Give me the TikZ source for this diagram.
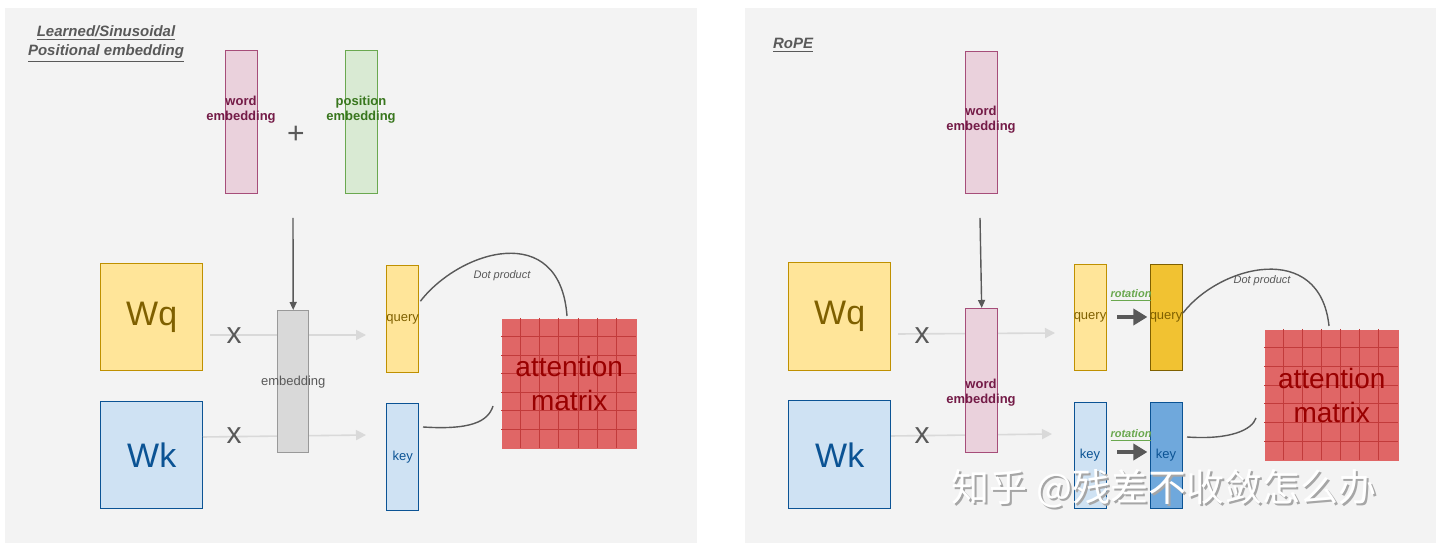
\documentclass[tikz,border=0pt]{standalone}
\usepackage{fontspec}
\setmainfont{Liberation Sans}
\newfontfamily\cjk{Noto Sans CJK SC}
\usetikzlibrary{arrows.meta}
\definecolor{panel}{HTML}{F3F3F3}
\definecolor{wfill}{HTML}{EAD1DC}\definecolor{wdraw}{HTML}{A64D79}\definecolor{wtext}{HTML}{741B47}
\definecolor{pfill}{HTML}{D9EAD3}\definecolor{pdraw}{HTML}{6AA84F}\definecolor{ptext}{HTML}{38761D}
\definecolor{qfill}{HTML}{FFE599}\definecolor{qdraw}{HTML}{BF9000}\definecolor{qtext}{HTML}{7F6000}
\definecolor{kfill}{HTML}{CFE2F3}\definecolor{kdraw}{HTML}{0B5394}
\definecolor{q2fill}{HTML}{F1C232}\definecolor{k2fill}{HTML}{6FA8DC}
\definecolor{afill}{HTML}{E06666}\definecolor{agrid}{HTML}{C23B3B}\definecolor{atext}{HTML}{990000}
\definecolor{efill}{HTML}{D9D9D9}\definecolor{edraw}{HTML}{999999}
\definecolor{tgray}{HTML}{595959}
\tikzset{
 box/.style={draw, line width=0.7pt, inner sep=0pt, anchor=north west},
 lbl/.style={font=\fontsize{6.5}{7.5}\selectfont\bfseries, align=center},
 small/.style={font=\fontsize{6.5}{7.5}\selectfont},
 big/.style={font=\fontsize{17}{18}\selectfont},
 times/.style={font=\fontsize{15}{15}\selectfont, text=tgray},
 lgarrow/.style={draw=efill, line width=0.8pt, -{Triangle[length=5pt,width=5pt]}},
 darrow/.style={draw=tgray, line width=0.7pt, -{Triangle[length=4pt,width=3.5pt]}},
 rotarrow/.style={draw=tgray, line width=1.8pt, -{Triangle[length=7pt,width=8pt]}},
 curve/.style={draw=tgray, line width=0.7pt},
 title/.style={font=\fontsize{7.5}{9.5}\selectfont\bfseries\itshape, text=tgray, align=center},
 dot/.style={font=\fontsize{5.5}{6}\selectfont\itshape, text=tgray},
 rot/.style={font=\fontsize{5.5}{6}\selectfont\bfseries\itshape, text=pdraw},
}
\newcommand{\rbox}[6]{\node[box, fill=#3, draw=#4, minimum width={(#5)*0.5pt}, minimum height={(#6)*0.5pt}] (#1) at #2 {};}
\newcommand{\attmat}[5]{% name, x0,y0,x1,y1
 \node[box, fill=afill, draw=none, minimum width={(#4-#2)*0.5pt}, minimum height={(#5-#3)*0.5pt}] (#1) at (#2,#3) {};
 \foreach \i in {1,...,6}{
  \draw[agrid, line width=0.4pt] ({#2+\i*(#4-#2)/7},#3) -- ({#2+\i*(#4-#2)/7},#5);
  \draw[agrid, line width=0.4pt] (#2,{#3+\i*(#5-#3)/7}) -- (#4,{#3+\i*(#5-#3)/7});}
 \node[big, text=atext, align=center, font=\fontsize{14}{17}\selectfont] at (#1.center) {attention\\matrix};}
\begin{document}
\begin{tikzpicture}[x=0.5pt,y=-0.5pt]
\useasboundingbox[fill=white] (0,0) rectangle (1440,549);
\fill[panel] (5,8) rectangle (697,543);
\fill[panel] (745,8) rectangle (1436,543);
% ---------- left panel
\node[title] (t1) at (106,44) {\underline{Learned/Sinusoidal}\\\underline{Positional embedding}};
\rbox{we}{(225,50)}{wfill}{wdraw}{32}{143}
\node[lbl, text=wtext] at (241,110) {word\\embedding};
\node[font=\fontsize{15}{15}\selectfont, text=tgray] (plus) at (296,135) {+};
\rbox{pe}{(345,50)}{pfill}{pdraw}{32}{143}
\node[lbl, text=ptext] at (361,110) {position\\embedding};
\rbox{wq}{(100,263)}{qfill}{qdraw}{102}{107}
\node[big, text=qtext] at (wq.center) {Wq};
\rbox{wk}{(100,401)}{kfill}{kdraw}{102}{107}
\node[big, text=kdraw] at (wk.center) {Wk};
\coordinate (a1s) at (210,335); \coordinate (a1e) at (366,335);
\coordinate (a2s) at (203,437); \coordinate (a2e) at (366,435);
\draw[lgarrow] (a1s) -- (a1e);
\draw[lgarrow] (a2s) -- (a2e);
\node[times] at (234,336) {x};
\node[times] at (234,436) {x};
\rbox{emb}{(277,310)}{efill}{edraw}{31}{142}
\node[small, text=tgray] at (emb.center) {embedding};
\coordinate (ar1) at (293,218);
\draw[darrow] (ar1) -- (emb.north);
\rbox{q}{(386,265)}{qfill}{qdraw}{32}{107}
\node[small, text=qtext] at (q.center) {query};
\rbox{k}{(386,403)}{kfill}{kdraw}{32}{107}
\node[small, text=kdraw] at (k.center) {key};
\attmat{am}{501}{318}{636}{448}
\coordinate (c1) at (567,316);
\draw[curve] (q.east) ++(1,-18) .. controls (460,250) and (560,220) .. (c1);
\node[dot] at (502,276) {Dot product};
\coordinate (c2) at (493,406);
\draw[curve] (423,427) .. controls (470,430) and (488,422) .. (c2);
% ---------- right panel
\node[title] (t2) at (793,45) {\underline{RoPE}};
\rbox{we2}{(965,51)}{wfill}{wdraw}{32}{142}
\node[lbl, text=wtext] at (981,120) {word\\embedding};
\rbox{wq2}{(788,262)}{qfill}{qdraw}{102}{108}
\node[big, text=qtext] at (wq2.center) {Wq};
\rbox{wk2}{(788,400)}{kfill}{kdraw}{102}{108}
\node[big, text=kdraw] at (wk2.center) {Wk};
\coordinate (b1s) at (898,334); \coordinate (b1e) at (1055,333);
\coordinate (b2s) at (891,436); \coordinate (b2e) at (1052,434);
\draw[lgarrow] (b1s) -- (b1e);
\draw[lgarrow] (b2s) -- (b2e);
\node[times] at (922,336) {x};
\node[times] at (922,436) {x};
\rbox{we3}{(965,308)}{wfill}{wdraw}{32}{144}
\node[lbl, text=wtext] at (981,393) {word\\embedding};
\coordinate (ar2) at (980,218);
\draw[darrow] (ar2) -- (we3.north);
\rbox{q2}{(1074,264)}{qfill}{qdraw}{32}{106}
\node[small, text=qtext] at (1090,317) {query};
\rbox{q3}{(1150,264)}{q2fill}{qtext}{32}{106}
\node[small, text=qtext] at (1166,317) {query};
\rbox{k2}{(1074,402)}{kfill}{kdraw}{32}{106}
\node[small, text=kdraw] at (1090,455) {key};
\rbox{k3}{(1150,402)}{k2fill}{kdraw}{32}{106}
\node[small, text=kdraw] at (1166,455) {key};
\draw[rotarrow] (q2.east |- 0,317) ++(10,0) -- ++(30,0);
\draw[rotarrow] (k2.east |- 0,452) ++(10,0) -- ++(30,0);
\node[rot] at (1131,296) {\underline{rotation}};
\node[rot] at (1131,436) {\underline{rotation}};
\attmat{am2}{1264}{329}{1398}{460}
\coordinate (c3) at (1329,326);
\draw[curve] (1183,313) .. controls (1220,265) and (1320,240) .. (c3);
\node[dot] at (1262,281) {Dot product};
\coordinate (c4) at (1256,418);
\draw[curve] (1187,437) .. controls (1230,440) and (1252,430) .. (c4);
% watermark
\node[font=\cjk\fontsize{19}{19}\selectfont, text=gray!70] at (1166,491) {知乎 @残差不收敛怎么办};
\node[font=\cjk\fontsize{19}{19}\selectfont, text=white] at (1164,489) {知乎 @残差不收敛怎么办};
\end{tikzpicture}
\end{document}
